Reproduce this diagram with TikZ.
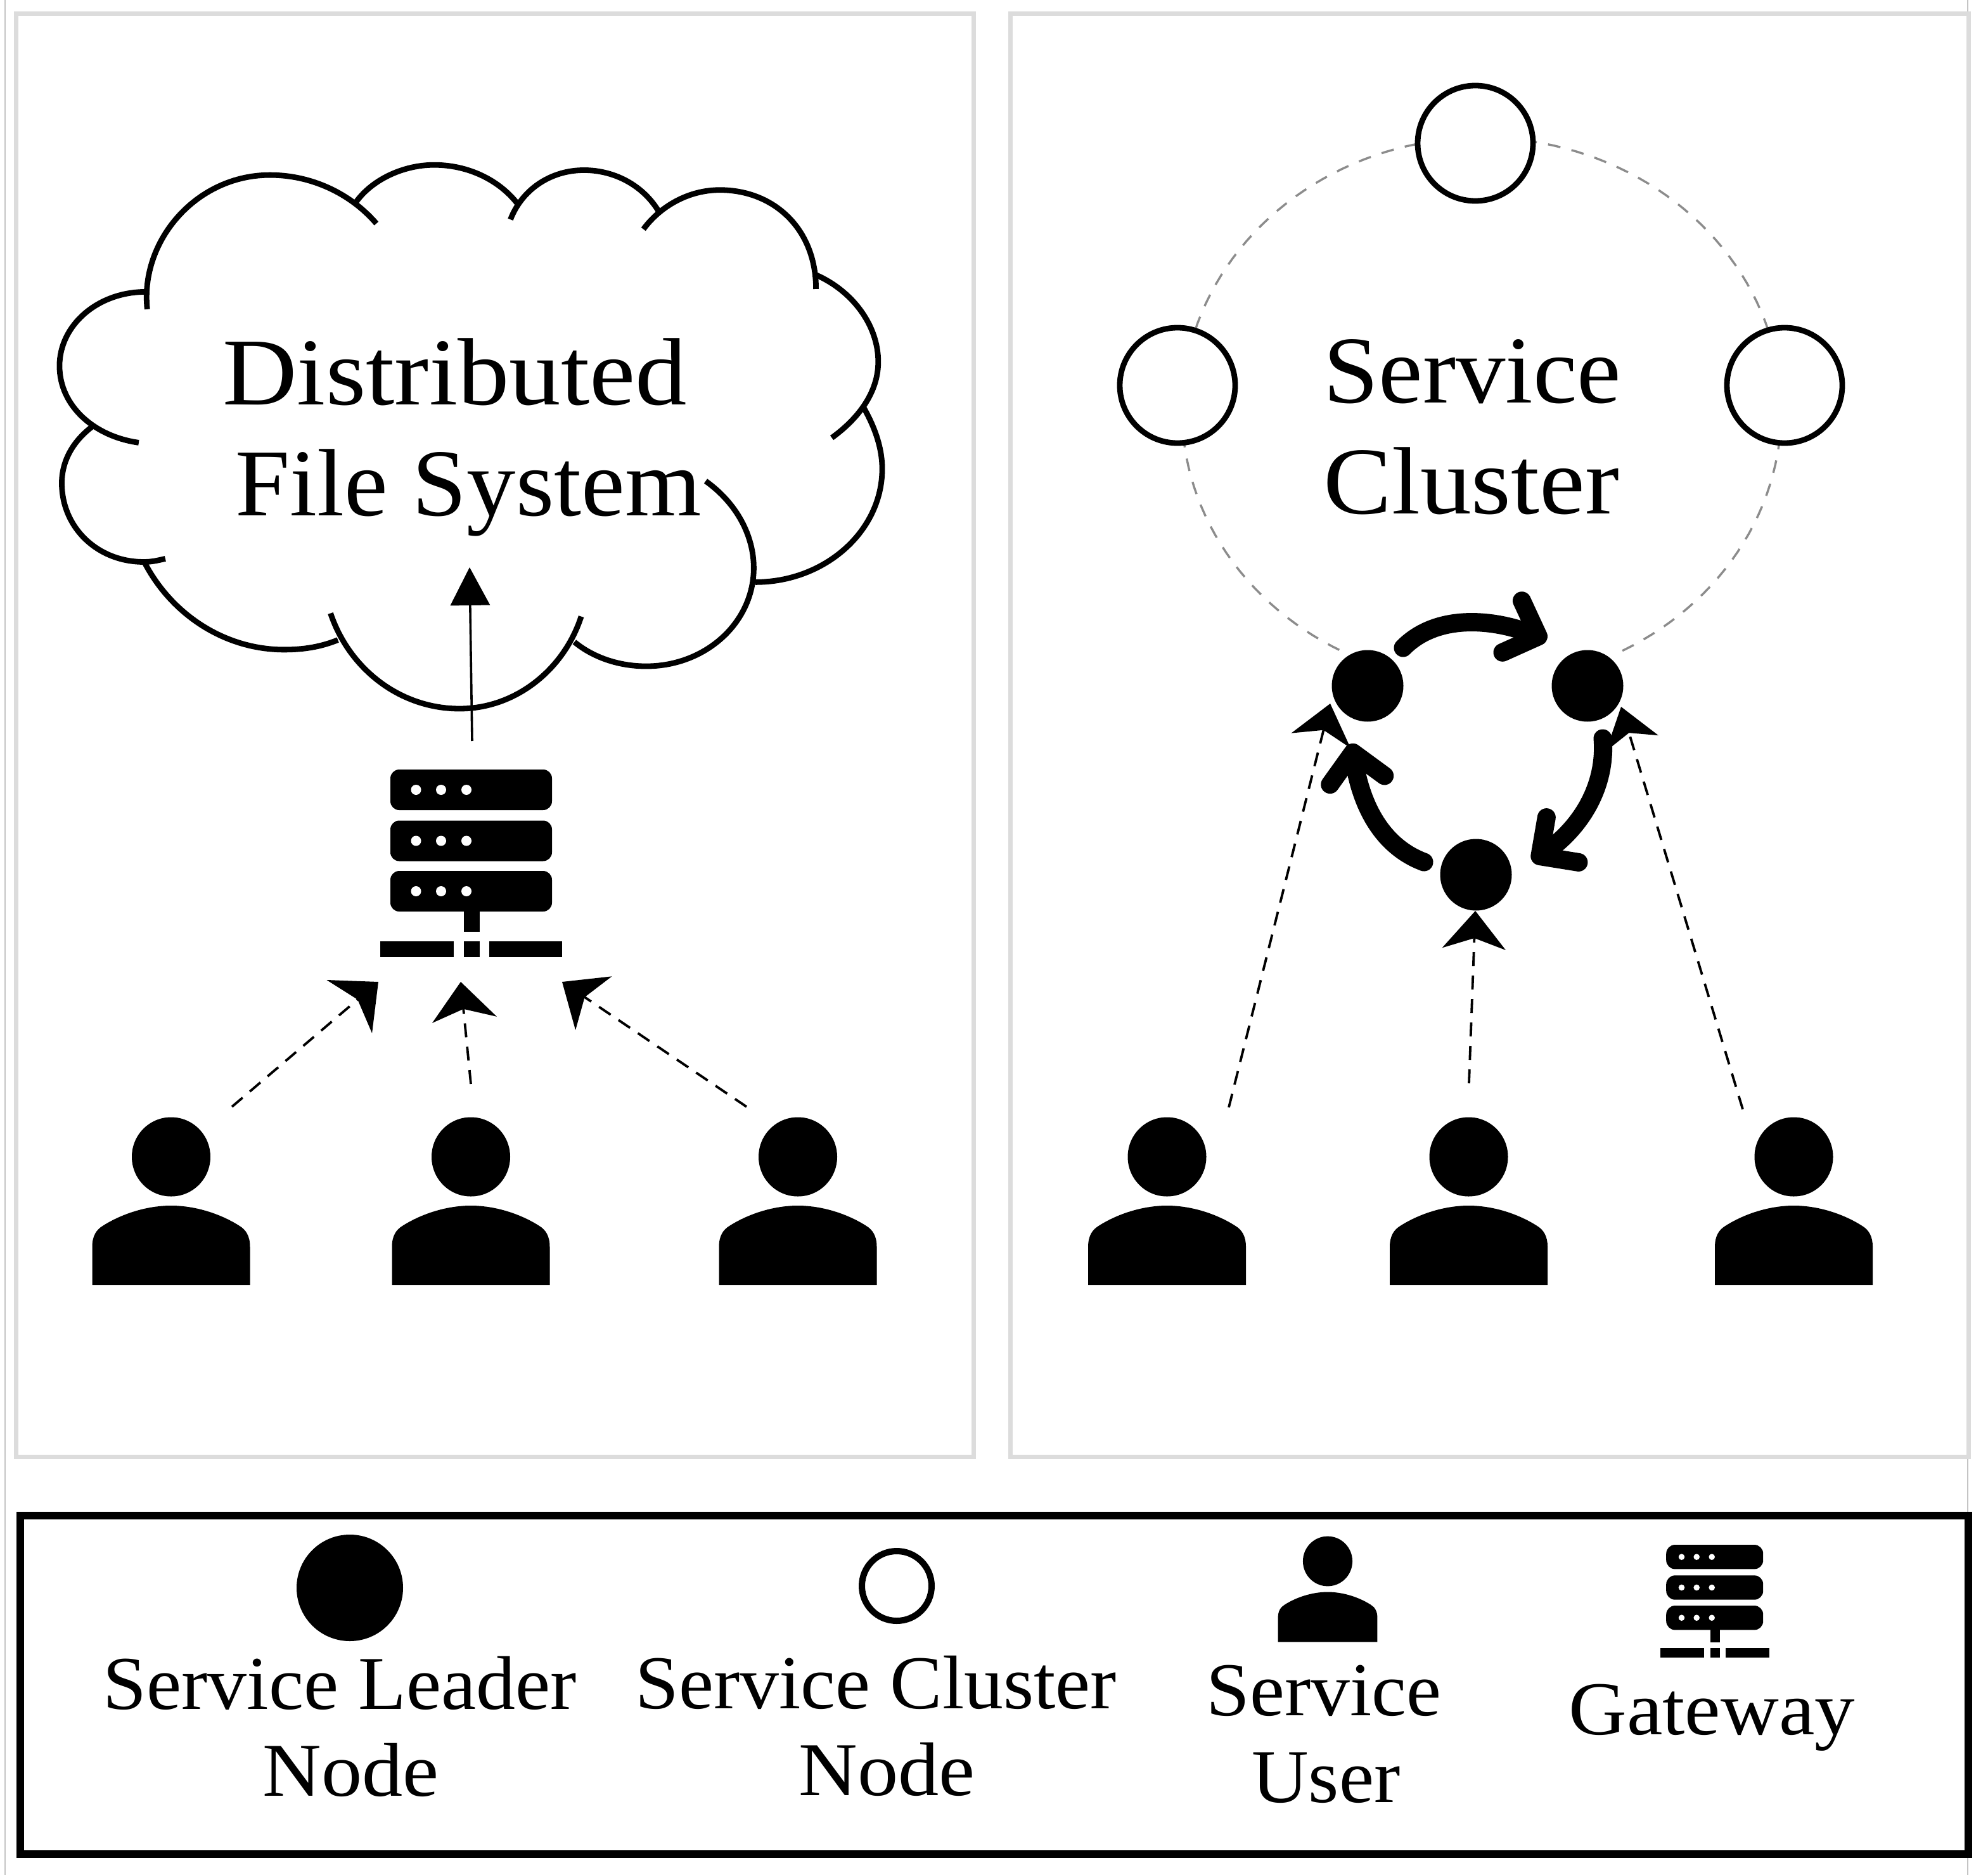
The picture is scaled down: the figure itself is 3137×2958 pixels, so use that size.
\documentclass[tikz,border=0pt]{standalone}
\usepackage{graphicx}
\usepackage{fontspec}
\setmainfont{Liberation Serif}[FakeStretch=1.07]
\usetikzlibrary{arrows.meta,calc}
\definecolor{panelgray}{HTML}{DCDCDC}
\definecolor{hairgray}{HTML}{C4C4C4}
\definecolor{ringgray}{HTML}{8C8C8C}
\newcommand{\squeezed}[2]{\scalebox{#1}[1]{#2}}
\tikzset{
  panel/.style={draw=panelgray,line width=3.5pt},
  hair/.style={draw=hairgray,line width=0.8pt},
  cloudarc/.style={draw=black,line width=4.4pt},
  userarrow/.style={draw=black,line width=1.9pt,dash pattern=on 11pt off 7.5pt,
    -{Stealth[length=30pt,width=#1,inset=8.5pt]}},
  userarrow/.default=52pt,
  uparrow/.style={draw=black,line width=1.8pt,-{Stealth[length=30pt,width=31pt,inset=0pt]}},
  ring/.style={draw=ringgray,line width=1.7pt,dash pattern=on 10pt off 9pt},
  loop/.style={draw=black,line width=14.5pt,line cap=round,line join=round,
    -{Straight Barb[length=22pt,width=43.5pt,round,line width=14.5pt]}},
  leader/.style={circle,fill=black,draw=none,inner sep=0pt,minimum size=56.5pt},
  member/.style={circle,fill=white,draw=black,line width=4.4pt,inner sep=0pt,minimum size=91pt},
  bigtext/.style={anchor=base west,inner sep=0pt,align=left,font=\fontsize{75.5}{87.5}\selectfont},
  legtext/.style={anchor=base west,inner sep=0pt,align=left,font=\fontsize{60}{68.5}\selectfont},
  person/.pic={
    \fill[black] (0,0) circle[x radius=62,y radius=62.5];
    \fill[black] (-124.5,202) -- (-124.5,142)
      .. controls (-124.5,125) and (-118,115) .. (-108,109)
      .. controls (-80,91) and (-40,77) .. (0,77)
      .. controls (40,77) and (80,91) .. (108,109)
      .. controls (118,115) and (124.5,125) .. (124.5,142)
      -- (124.5,202) -- cycle;
  },
  gateway/.pic={
    \foreach \yy in {0,80.5,160}{
      \fill[black,even odd rule,rounded corners=7pt] (-128,\yy) rectangle (127,\yy+64);
      \foreach \xx in {-87.5,-48,-8}{
        \fill[white] (\xx,\yy+32) circle[radius=8];
      }
    }
    \fill[black] (-12,223) rectangle (13,256);
    \fill[black] (-144,271) rectangle (-28,296);
    \fill[black] (-12,271) rectangle (13,296);
    \fill[black] (28,271) rectangle (143,296);
  }
}
\begin{document}
\begin{tikzpicture}[x=0.5pt,y=-0.5pt]
\useasboundingbox (0,0) rectangle (3137,2958);
\fill[white] (0,0) rectangle (3137,2958);

% hairlines at the page sides
\coordinate (hl1) at (8,0); \coordinate (hl2) at (8,2958);
\coordinate (hr1) at (3105,0); \coordinate (hr2) at (3105,2958);
\draw[hair] (hl1) -- (hl2);
\draw[hair] (hr1) -- (hr2);

% panels
\draw[panel] (25,22) rectangle (1536,2298);
\draw[panel] (1594,22) rectangle (3106,2298);

% legend box
\draw[black,line width=5.8pt] (32,2391) rectangle (3106,2925);

% cloud (typed in the scale of a crop: x/1.12, y/1.568)
\begin{scope}[shift={(60,220)},x=0.4464pt,y=-0.3189pt]
\draw[cloudarc] (193,420) .. controls (180,250) and (280,88) .. (410,88) .. controls (480,88) and (550,130) .. (598,208);
\draw[cloudarc] (562,155) .. controls (590,100) and (645,63) .. (700,63) .. controls (760,63) and (815,100) .. (848,160);
\draw[cloudarc] (835,198) .. controls (855,125) and (905,76) .. (965,76) .. controls (1020,76) and (1070,115) .. (1097,178);
\draw[cloudarc] (1070,222) .. controls (1100,165) and (1150,125) .. (1205,125) .. controls (1300,125) and (1375,220) .. (1375,370);
\draw[cloudarc] (1375,335) .. controls (1440,375) and (1485,460) .. (1485,550) .. controls (1485,620) and (1455,685) .. (1403,738);
\draw[cloudarc] (1460,665) .. controls (1480,715) and (1492,765) .. (1492,815) .. controls (1492,970) and (1390,1095) .. (1268,1095);
\draw[cloudarc] (1180,845) .. controls (1235,900) and (1265,980) .. (1265,1060) .. controls (1265,1195) and (1180,1303) .. (1075,1303) .. controls (1025,1303) and (980,1280) .. (948,1243);
\draw[cloudarc] (960,1180) .. controls (930,1310) and (845,1408) .. (745,1408) .. controls (640,1408) and (550,1310) .. (517,1172);
\draw[cloudarc] (530,1238) .. controls (500,1255) and (470,1262) .. (435,1262) .. controls (330,1262) and (235,1175) .. (187,1043);
\draw[cloudarc] (225,1037) .. controls (210,1042) and (200,1045) .. (187,1045) .. controls (105,1045) and (42,960) .. (42,850) .. controls (42,795) and (62,745) .. (98,708);
\draw[cloudarc] (178,750) .. controls (100,735) and (38,660) .. (38,560) .. controls (38,460) and (105,377) .. (190,377);
\end{scope}

% big labels
\node[bigtext] (dfs) at (351,813) {\squeezed{1.008}{Distributed}\\\hspace*{10pt}\squeezed{0.958}{File System}};
\node[bigtext] (sc) at (2088,810) {\squeezed{0.97}{Service}\\Cluster};

% gateway and users, left
\pic at (744,1214) {gateway};
\coordinate (gwtop) at (745,1169);
\coordinate (cloudin) at (741,895);
\draw[uparrow] (gwtop) -- (cloudin);

\pic at (270,1825) {person};
\pic at (743,1825) {person};
\pic at (1259,1825) {person};
\pic at (1841.5,1825) {person};
\pic at (2317.5,1825) {person};
\pic at (2830.5,1825) {person};

\coordinate (lu1) at (366,1746); \coordinate (lg1) at (597,1549);
\coordinate (lu2) at (743,1710); \coordinate (lg2) at (727,1549);
\coordinate (lu3) at (1178,1746); \coordinate (lg3) at (887,1549);
\draw[userarrow=55pt] (lu1) -- (lg1);
\draw[userarrow=51pt] (lu2) -- (lg2);
\draw[userarrow=51pt] (lu3) -- (lg3);

% ring and service cluster
\draw[ring] plot[domain=62:-242.4,samples=140] ({2338+473*cos(\x)},{647+430*sin(\x)});
\node[member] (m1) at (2328,226) {};
\node[member] (m2) at (1858,608) {};
\node[member] (m3) at (2816,608) {};
\node[leader] (la) at (2158,1082) {};
\node[leader] (lb) at (2505,1082) {};
\node[leader] (lc) at (2329,1380) {};

\coordinate (ab1) at (2214,1022); \coordinate (ab2) at (2441,1009);
\coordinate (bc1) at (2529,1165); \coordinate (bc2) at (2418,1359);
\coordinate (ca1) at (2247,1360); \coordinate (ca2) at (2132.5,1173);
\draw[loop] (ab1) .. controls (2265,970) and (2350,975) .. (ab2);
\draw[loop] (bc1) .. controls (2535,1240) and (2495,1304) .. (bc2);
\draw[loop] (ca1) .. controls (2180,1335) and (2148,1270) .. (ca2);

\coordinate (ru1) at (1939,1747); \coordinate (ra1) at (2099,1110);
\coordinate (ru2) at (2318,1709); \coordinate (ra2) at (2328,1437);
\coordinate (ru3) at (2750,1750); \coordinate (ra3) at (2558,1115);
\draw[userarrow=48pt] (ru1) -- (ra1);
\draw[userarrow=50pt] (ru2) -- (ra2);
\draw[userarrow=43pt] (ru3) -- (ra3);

% legend
\node[circle,fill=black,inner sep=0pt,minimum size=84pt] (legl) at (552,2505) {};
\node[circle,fill=white,draw=black,line width=5pt,inner sep=0pt,minimum size=55pt] (legm) at (1415,2502) {};
\pic[scale=0.63] at (2095,2463) {person};
\pic[scale=0.6] at (2706,2437) {gateway};

\node[legtext] (t1) at (162,2833) {\squeezed{0.966}{Service Leader}\\\hspace*{126pt}Node};
\node[legtext] (t2) at (1002,2832) {\squeezed{0.964}{Service Cluster}\\\hspace*{129pt}Node};
\node[legtext] (t3) at (1903,2843) {\squeezed{0.963}{Service}\\\hspace*{36pt}\squeezed{0.966}{User}};
\node[legtext] (t4) at (2475,2736) {\squeezed{0.99}{Gateway}};
\end{tikzpicture}
\end{document}
